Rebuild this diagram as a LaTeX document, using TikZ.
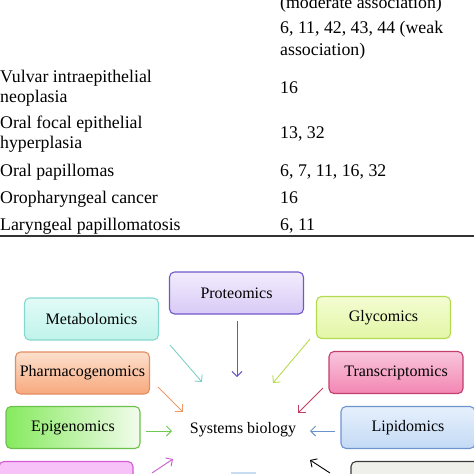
\documentclass[tikz,border=0pt]{standalone}
\usepackage{fontspec}
\setmainfont{Liberation Serif}
\usetikzlibrary{arrows.meta}
\definecolor{protD}{HTML}{7058C8}
\definecolor{protT}{HTML}{F2ECFD}
\definecolor{protB}{HTML}{D8CAF6}
\definecolor{metD}{HTML}{86D8CE}
\definecolor{metT}{HTML}{E2FBF7}
\definecolor{metB}{HTML}{BFF3EA}
\definecolor{glyD}{HTML}{B4DA50}
\definecolor{glyT}{HTML}{F4FCD2}
\definecolor{glyB}{HTML}{E2F7A6}
\definecolor{phaD}{HTML}{E38C62}
\definecolor{phaT}{HTML}{FCE0CD}
\definecolor{phaB}{HTML}{F7A87C}
\definecolor{traD}{HTML}{C23E6C}
\definecolor{traT}{HTML}{F9C6DC}
\definecolor{traB}{HTML}{F386B2}
\definecolor{epiD}{HTML}{6CC04C}
\definecolor{epiL}{HTML}{86EA5E}
\definecolor{epiR}{HTML}{F2FCEC}
\definecolor{lipD}{HTML}{6E94D0}
\definecolor{lipT}{HTML}{E6F0FC}
\definecolor{lipB}{HTML}{C3DAF5}
\definecolor{magD}{HTML}{D35CD6}
\definecolor{magL}{HTML}{F7C2F7}
\definecolor{magM}{HTML}{E86CF0}
\definecolor{gryD}{HTML}{3A3A3A}
\definecolor{gryF}{HTML}{F0F0EB}
\definecolor{blueS}{HTML}{C8DCF3}
\definecolor{arrMet}{HTML}{7FCFC4}
\definecolor{arrPro}{HTML}{6C54C8}
\definecolor{arrGly}{HTML}{B7DC4E}
\definecolor{arrPha}{HTML}{EE9A68}
\definecolor{arrTra}{HTML}{C23E60}
\definecolor{arrEpi}{HTML}{6CCB50}
\definecolor{arrLip}{HTML}{6C92CC}
\definecolor{arrMag}{HTML}{C958CF}
\tikzset{
  tabtext/.style={anchor=base west, inner sep=0pt, font=\fontsize{17.8}{20}\selectfont},
  omicbox/.style={rounded corners=5pt, line width=1.1pt, minimum width=134pt, minimum height=42pt, inner sep=0pt, font=\fontsize{16}{18}\selectfont},
  conn/.style={line width=0.9pt, -{Straight Barb[length=5pt,width=10pt]}}
}
\begin{document}
\begin{tikzpicture}[x=1pt,y=-1pt]
\useasboundingbox (0,0) rectangle (474,474);
\clip (0,0) rectangle (474,474);
% table
\node[tabtext] (t1) at (280,8) {(moderate association)};
\node[tabtext] (t2) at (280,33) {6, 11, 42, 43, 44 (weak};
\node[tabtext] (t3) at (280,55) {association)};
\node[tabtext] (l1) at (0,82) {Vulvar intraepithelial};
\node[tabtext] (l1b) at (0,102) {neoplasia};
\node[tabtext] (r1) at (280,93) {16};
\node[tabtext] (l2) at (0,128) {Oral focal epithelial};
\node[tabtext] (l2b) at (0,148) {hyperplasia};
\node[tabtext] (r2) at (280,138) {13, 32};
\node[tabtext] (l3) at (0,176) {Oral papillomas};
\node[tabtext] (r3) at (280,176) {6, 7, 11, 16, 32};
\node[tabtext] (l4) at (0,203) {Oropharyngeal cancer};
\node[tabtext] (r4) at (280,203) {16};
\node[tabtext] (l5) at (0,230) {Laryngeal papillomatosis};
\node[tabtext] (r5) at (280,230) {6, 11};
\coordinate (ruleL) at (0,236);
\coordinate (ruleR) at (474,236);
\draw[line width=1.3pt, black!80] (ruleL) -- (ruleR);
% boxes
\node[omicbox, draw=protD, top color=protT, bottom color=protB] (prot) at (236.5,293) {Proteomics};
\node[omicbox, draw=metD, top color=metT, bottom color=metB] (metab) at (91.5,319) {Metabolomics};
\node[omicbox, draw=glyD, top color=glyT, bottom color=glyB] (glyc) at (383.5,317.5) {Glycomics};
\node[omicbox, draw=phaD, top color=phaT, bottom color=phaB] (pharm) at (82.5,373) {Pharmacogenomics};
\node[omicbox, draw=traD, top color=traT, bottom color=traB] (trans) at (396,372.5) {Transcriptomics};
\node[omicbox, draw=epiD, left color=epiL, right color=epiR] (epi) at (73,427.5) {Epigenomics};
\node[omicbox, draw=lipD, top color=lipT, bottom color=lipB] (lipid) at (408,427.5) {Lipidomics};
\node[omicbox, draw=magD, left color=magL, middle color=magM, right color=magL] (mag) at (66,482.5) {};
\node[omicbox, draw=gryD, fill=gryF] (gray) at (418,482.5) {};
\node[fill=blueS, minimum width=25pt, minimum height=6pt, inner sep=0pt] (blue) at (243.5,475) {};
\node[inner sep=0pt, font=\fontsize{16}{18}\selectfont] (sys) at (243,430) {Systems biology};
% arrow ends
\coordinate (aMs) at (170,345); \coordinate (aMe) at (202,382);
\coordinate (aPs) at (237,321); \coordinate (aPe) at (237,377);
\coordinate (aGs) at (310,339); \coordinate (aGe) at (273,383);
\coordinate (aHs) at (158,387); \coordinate (aHe) at (183,412);
\coordinate (aTs) at (323,388); \coordinate (aTe) at (298,413);
\coordinate (aEs) at (146,431); \coordinate (aEe) at (172,431);
\coordinate (aLs) at (335,431); \coordinate (aLe) at (310,431);
\coordinate (aXs) at (152,473); \coordinate (aXe) at (173,459);
\coordinate (aKs) at (330,473); \coordinate (aKe) at (310,460);
\draw[conn, arrMet] (aMs) -- (aMe);
\draw[conn, arrPro] (aPs) -- (aPe);
\draw[conn, arrGly] (aGs) -- (aGe);
\draw[conn, arrPha] (aHs) -- (aHe);
\draw[conn, arrTra] (aTs) -- (aTe);
\draw[conn, arrEpi] (aEs) -- (aEe);
\draw[conn, arrLip] (aLs) -- (aLe);
\draw[conn, arrMag] (aXs) -- (aXe);
\draw[conn, black] (aKs) -- (aKe);
\end{tikzpicture}
\end{document}
